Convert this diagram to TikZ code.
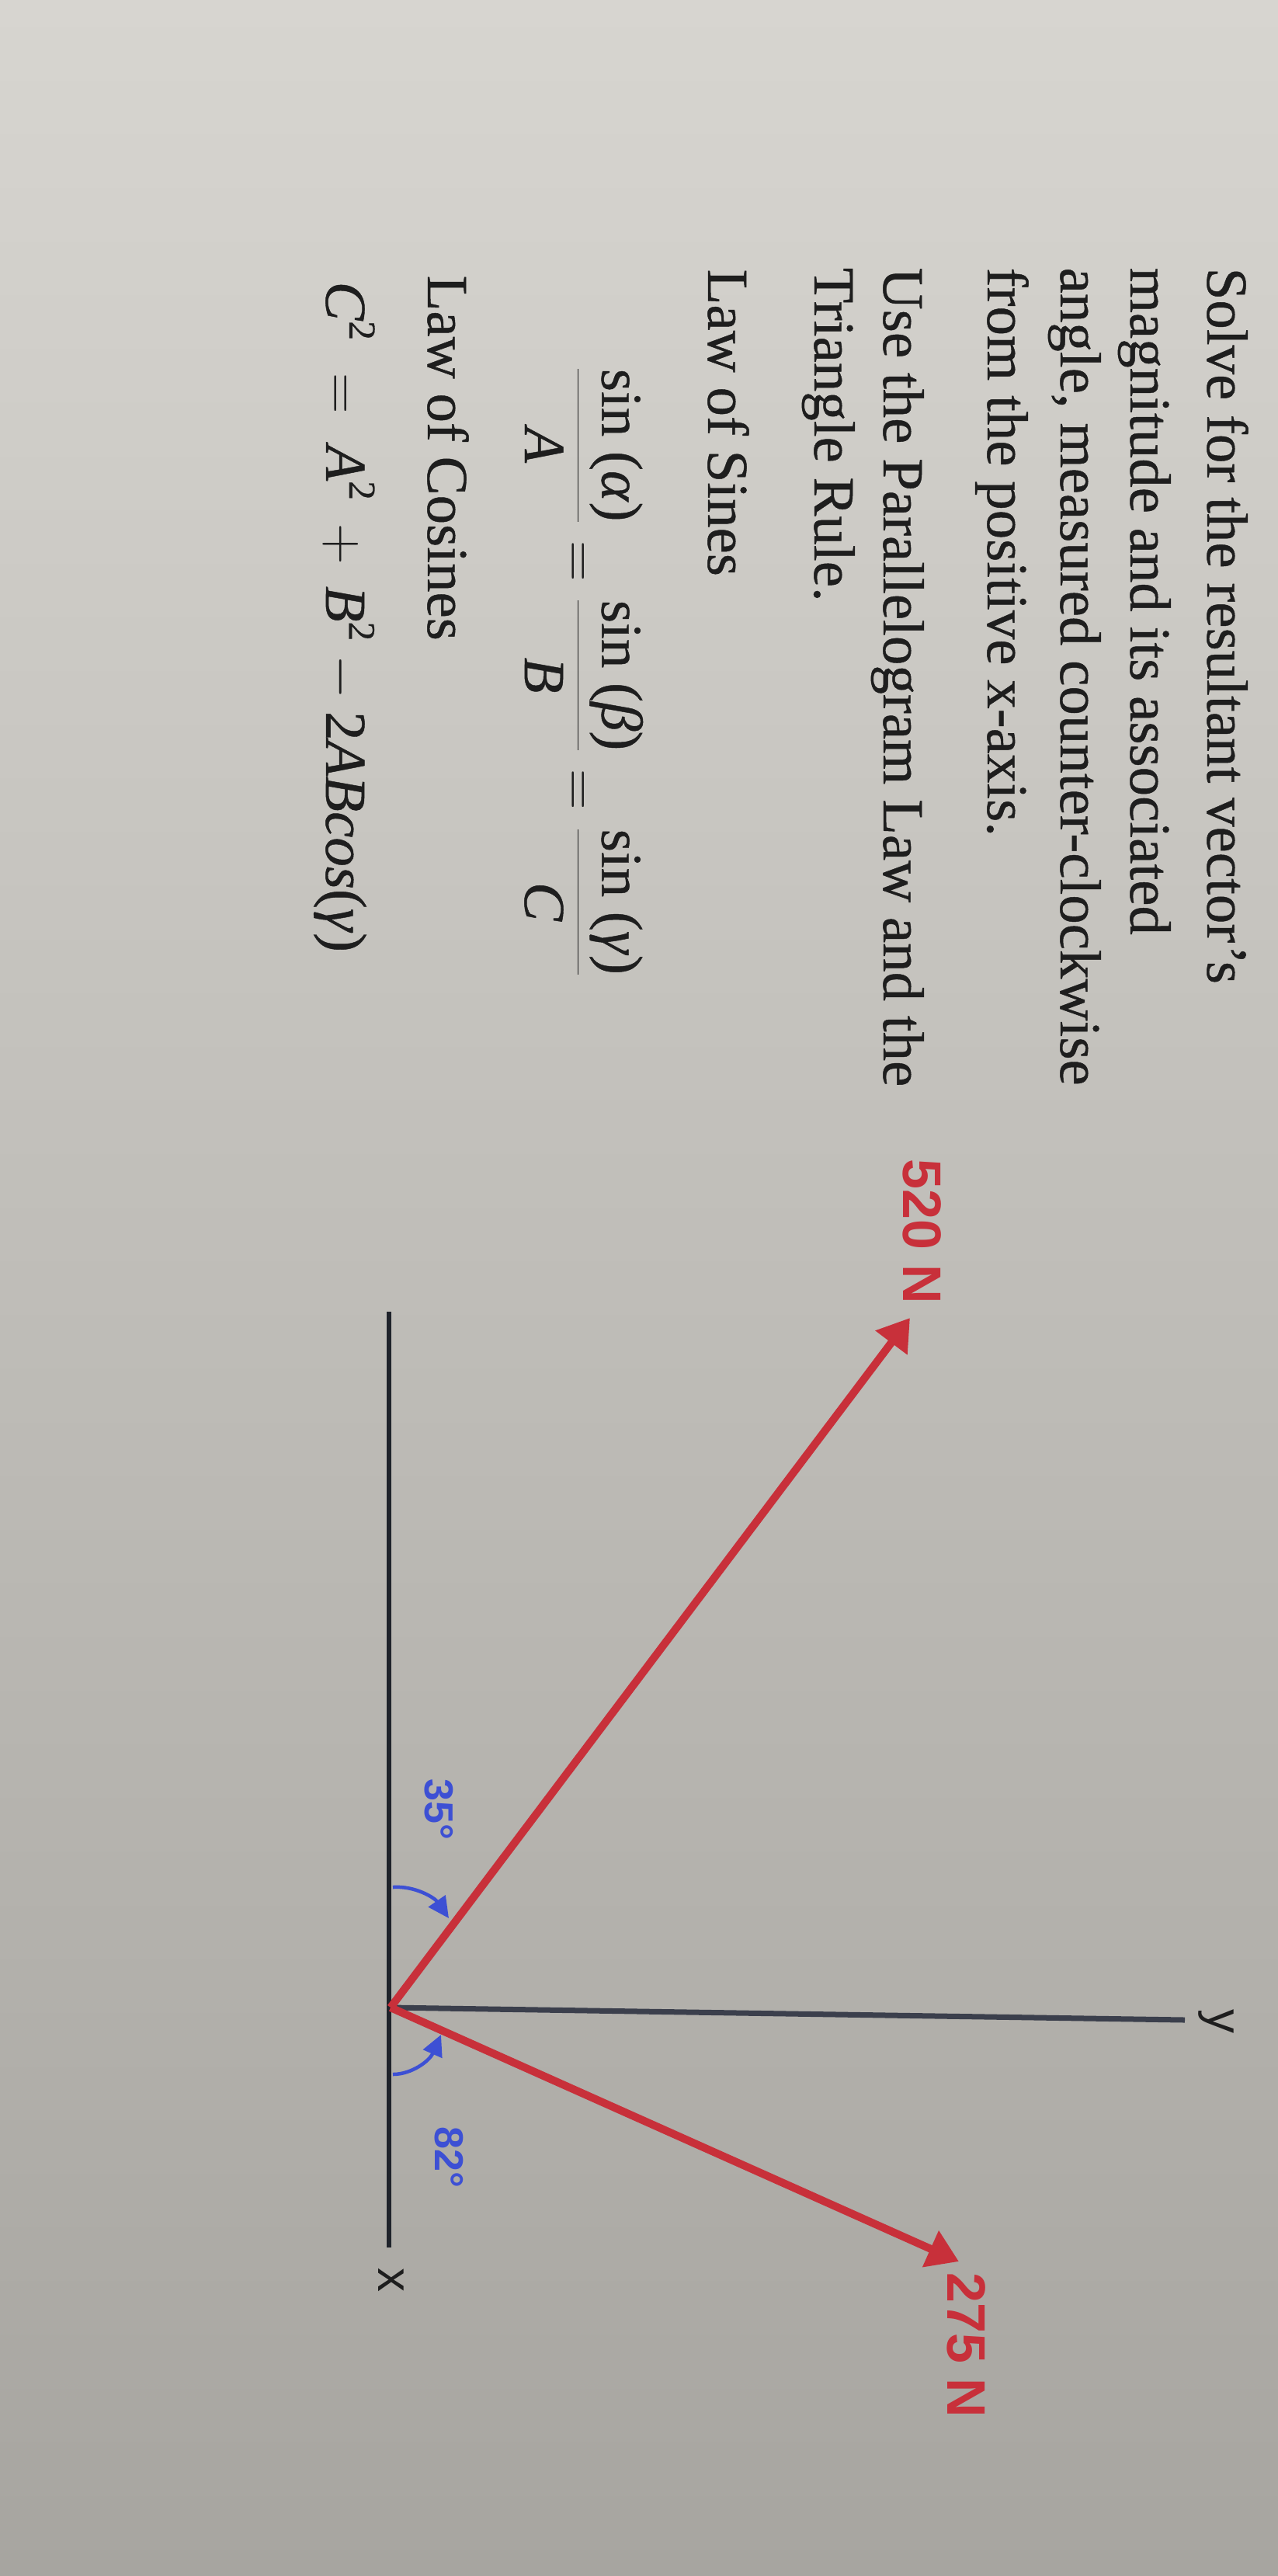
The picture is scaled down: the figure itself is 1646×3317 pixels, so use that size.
\documentclass[tikz,border=0pt]{standalone}
\usepackage{fontspec}
\setmainfont{Liberation Serif}
\newfontfamily\bodyfont{Liberation Serif}[FakeBold=0.6]
\newfontfamily\labelfont{Liberation Sans}
\usetikzlibrary{arrows.meta}
\definecolor{paperTop}{HTML}{D7D5D0}
\definecolor{paperMid}{HTML}{CFCDC8}
\definecolor{paperBot}{HTML}{A7A5A0}
\definecolor{ink}{HTML}{1E1E1E}
\definecolor{vecred}{HTML}{C8303A}
\definecolor{angblue}{HTML}{3D50D4}
\definecolor{axisdark}{HTML}{1F232B}
\definecolor{axisgray}{HTML}{3B3F4C}
\newcommand{\mvar}[1]{\textit{#1}}
\newcommand{\supsz}[1]{\mbox{\fontsize{14}{16}\selectfont #1}}
\begin{document}
\begin{tikzpicture}[x=0.01cm,y=-0.01cm,
  bodytext/.style={rotate=-90, anchor=base west, inner sep=0pt, text=ink, font=\bodyfont\fontsize{21.3}{26}\selectfont},
  forcelabel/.style={rotate=-90, inner sep=0pt, text=vecred, font=\labelfont\bfseries\fontsize{19.9}{24}\selectfont},
  anglelabel/.style={rotate=-90, inner sep=0pt, text=angblue, font=\labelfont\bfseries\fontsize{14.8}{18}\selectfont},
  axislabel/.style={rotate=-90, inner sep=0pt, text=ink, font=\labelfont\fontsize{17.6}{20}\selectfont},
  vector/.style={draw=vecred, line width=0.1cm, -{Triangle[length=4mm,width=4.9mm]}},
  anglearc/.style={draw=angblue, line width=0.045cm, -{Triangle[length=2.7mm,width=2.6mm]}},
  axisline/.style={line width=0.055cm}
]
\useasboundingbox (0,0) rectangle (1646,3317);
\shade[top color=paperTop, middle color=paperMid, bottom color=paperBot] (0,0) rectangle (1646,3317);

% problem text (page rotated clockwise)
\node[bodytext] (l1) at (1555,344) {Solve for the resultant vector’s};
\node[bodytext] (l2) at (1456,344) {magnitude and its associated};
\node[bodytext] (l3) at (1366,344) {angle, measured counter-clockwise};
\node[bodytext] (l4) at (1272,344) {from the positive x-axis.};
\node[bodytext] (l5) at (1138,344) {Use the Parallelogram Law and the};
\node[bodytext] (l6) at (1049,344) {Triangle Rule.};
\node[bodytext] (l7) at (912,346) {Law of Sines};
\node[bodytext] (sines) at (726,470) {$\displaystyle
  \frac{\mbox{sin (\mvar{α})}}{\mbox{\mvar{A}}}
  =\frac{\mbox{sin (\mvar{β})}}{\mbox{\mvar{B}}}
  =\frac{\mbox{sin (\mvar{γ})}}{\mbox{\mvar{C}}}$};
\node[bodytext] (l8) at (551,354) {Law of Cosines};
\node[bodytext] (cosines) at (420,362) {$\mbox{\mvar{C}}^{\supsz{2}} \;=\; \mbox{\mvar{A}}^{\supsz{2}} \,+\, \mbox{\mvar{B}}^{\supsz{2}} - \mbox{2\mvar{AB}\mvar{cos}(\mvar{γ})}$};

% diagram
\coordinate (O) at (503,2585);
\coordinate (xneg) at (501,1689);
\coordinate (xpos) at (501,2894);
\coordinate (yend) at (1526,2601);
\coordinate (F1) at (1172,1697);
\coordinate (F2) at (1235,2912);

\draw[axisline, axisdark] (xneg) -- (xpos);
\draw[axisline, axisgray, line width=0.07cm] (O) -- (yend);

\node[axislabel] (xlab) at (504,2936) {x};
\node[axislabel] (ylab) at (1566,2603) {y};

\draw[vector] (O) -- (F1);
\draw[vector] (O) -- (F2);

\node[forcelabel] (f1lab) at (1188,1586) {520 N};
\node[forcelabel] (f2lab) at (1245,3020) {275 N};

\coordinate (a1s) at (506,2430);
\coordinate (a1e) at (578,2470);
\draw[anglearc] (a1s) .. controls (535,2428) and (560,2444) .. (a1e);
\node[anglelabel] (ang1) at (565,2330) {35°};

\coordinate (a2s) at (506,2671);
\coordinate (a2e) at (568,2620);
\draw[anglearc] (a2s) .. controls (530,2671) and (553,2654) .. (a2e);
\node[anglelabel] (ang2) at (578,2778) {82°};
\end{tikzpicture}
\end{document}
